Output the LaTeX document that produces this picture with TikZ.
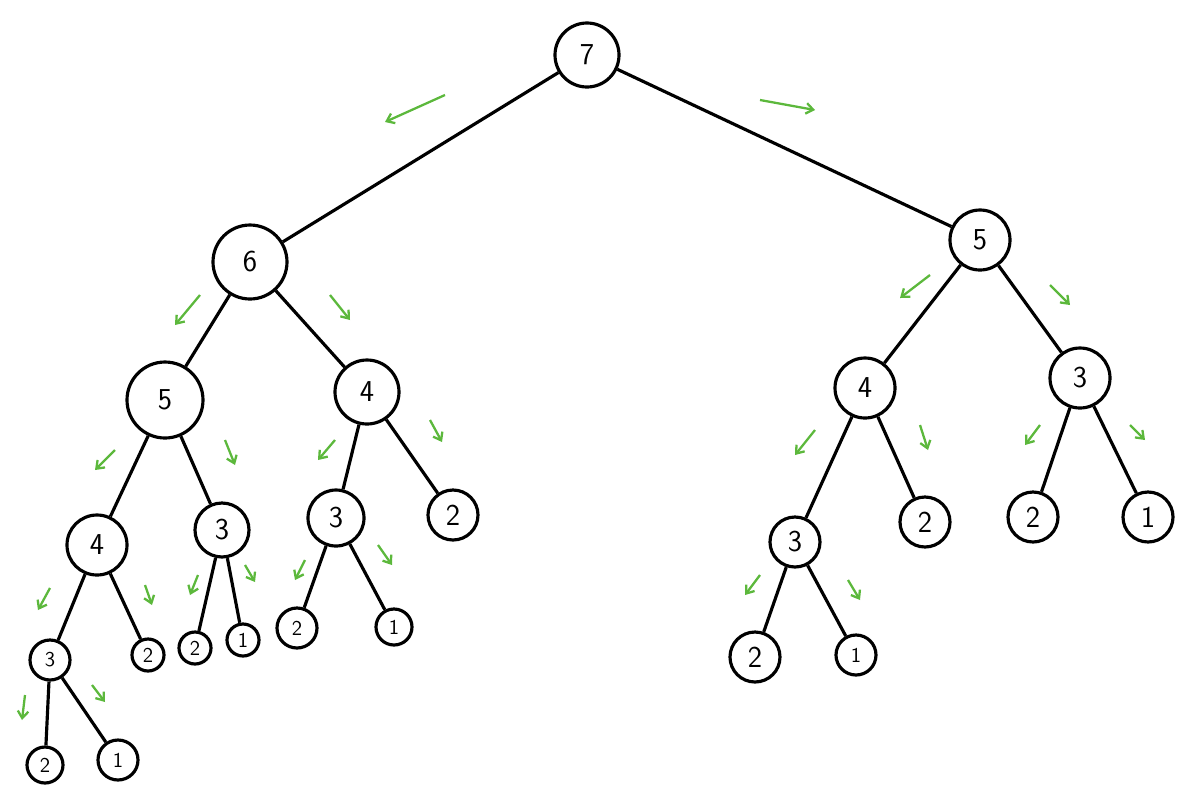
\documentclass[tikz,border=0pt]{standalone}
\usetikzlibrary{arrows.meta}
\definecolor{gr}{RGB}{92,184,60}
\begin{document}
\begin{tikzpicture}[x=0.02cm,y=-0.02cm,
 nd/.style={circle,draw,line width=1.8pt,inner sep=0pt,font=\sffamily\LARGE},
 ed/.style={line width=1.8pt},
 ga/.style={draw=gr,line width=1.3pt,-{Straight Barb[length=4pt,width=6pt]}}]
\useasboundingbox (0,0) rectangle (1200,809);
\foreach \n/\x/\y/\r/\t in {r7/587/55/64/7, n6/250/262/74/6, r5/980/240/60/5, l5/165/400/76/5,
 a4/367/392/64/4, l4/97/545/60/4, a3/222/530/54/3, b3/336/518/56/3, a2/453/515/50/2,
 r4/865/388/60/4, r3/1080/378/60/3,
 c3/795/542/50/3, f2/925/522/50/2, g2/1033/517/50/2, d1/1148/517/50/1, h2/755/657/50/2}
 \node[nd,minimum size=\r*0.02cm] (\n) at (\x,\y) {\t};
\foreach \n/\x/\y/\r/\t in {l3/50/660/40/3, b2/148/655/32/2, c2/195/648/32/2, a1/243/640/32/1, d2/297/628/40/2,
 b1/394/627/36/1, e2/45/765/36/2, c1/118/760/40/1, e1/856/655/40/1}
 \node[nd,font=\sffamily\large,minimum size=\r*0.02cm] (\n) at (\x,\y) {\t};
\foreach \a/\b in {r7/n6, r7/r5, n6/l5, n6/a4, r5/r4, r5/r3, l5/l4, l5/a3, a4/b3, a4/a2,
 r4/c3, r4/f2, r3/g2, r3/d1, l4/l3, l4/b2, a3/c2, a3/a1, b3/d2, b3/b1, c3/h2, c3/e1, l3/e2, l3/c1}
 \draw[ed] (\a) -- (\b);
\foreach \x/\y/\u/\v in {445/95/385/122, 760/100/815/110, 200/295/175/325, 330/295/350/320,
 930/275/900/298, 1050/285/1070/305, 115/450/95/470, 225/440/235/465, 335/440/318/460,
 430/420/442/442, 815/430/795/455, 920/425/928/450, 1040/425/1025/445, 1130/425/1145/440,
 50/588/38/610, 145/585/152/605, 198/575/190/595, 245/565/255/582, 305/560/295/580,
 378/545/392/565, 760/575/745/595, 848/580/860/600, 25/695/22/720, 92/685/105/702}
 \draw[ga] (\x,\y) -- (\u,\v);
\end{tikzpicture}
\end{document}
